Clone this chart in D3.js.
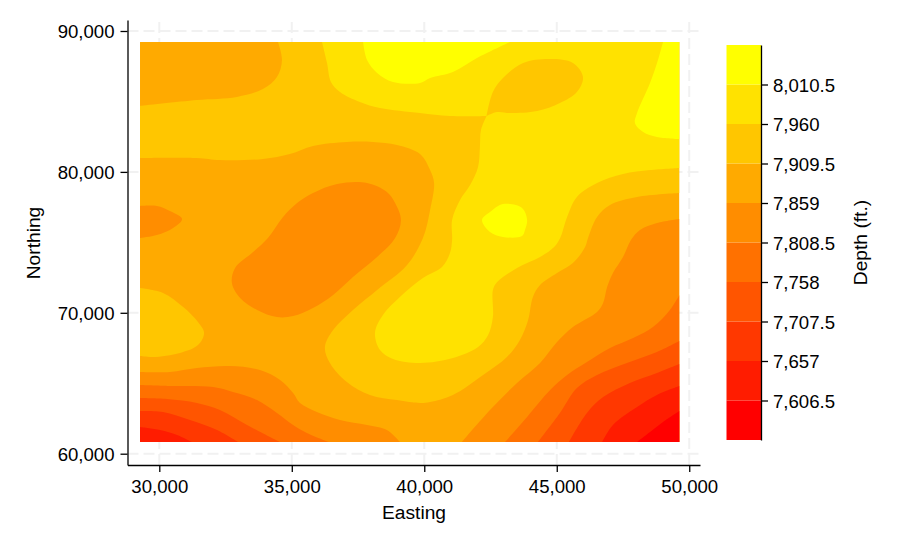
<!DOCTYPE html>
<html>

<head>
    <title>Depth contour</title>
    <meta charset="UTF-8">
    <style type="text/css">
        body {
            margin: 0;
            background: #fff;
        }

        text {
            font-family: "Liberation Sans", Arial, sans-serif;
            font-size: 18.6px;
            fill: #000;
        }

        .title {
            font-size: 19.2px;
        }

        .grid line {
            stroke: #f1f1f1;
            stroke-width: 2px;
            stroke-dasharray: 11 5;
        }
    </style>
    <script src="https://d3js.org/d3.v7.min.js"></script>
</head>

<body>
    <script type="text/javascript">
        //tick labels
        var eastingTicks = [30000, 35000, 40000, 45000, 50000];
        var northingTicks = [60000, 70000, 80000, 90000];
        var depthTicks = [7606.5, 7657, 7707.5, 7758, 7808.5, 7859, 7909.5, 7960, 8010.5];
        var depthRange = [7556, 8061];
        var bandColors = ["#ff0000", "#ff1c00", "#ff3800", "#ff5500", "#ff7100", "#ff8d00", "#ffaa00", "#ffc600", "#ffe200", "#ffff00"];

        //extent of the contoured grid
        var eastMin = 29272, eastMax = 49630;
        var northMin = 60830, northMax = 89218;

        //contour lines, as [easting, northing]
        var line7909South = [[29272, 80990], [31420, 80990], [32290, 80840], [33910, 80920], [34930, 81270], [35800, 81840], [37080, 82120], [38070, 82120], [38970, 81910], [39840, 81270], [40220, 80130], [40370, 79210], [40220, 77300], [39950, 75310], [39350, 73390], [38220, 71620], [37310, 70200], [36560, 68780], [36250, 67570], [36440, 66440], [37080, 65090], [37950, 64170], [38970, 63810], [39840, 63600], [40220, 63670], [41080, 64170], [42220, 65590], [43120, 66860], [43610, 68070], [43920, 69490], [44100, 71120], [44370, 71970], [45010, 72820], [45610, 73530], [46070, 74670], [46180, 75310], [46520, 76800], [47010, 77650], [48030, 78220], [49630, 78500]];
        var line7909NorthWest = [[34480, 89218], [34630, 87940], [34440, 86730], [33910, 85880], [32930, 85320], [31420, 85100], [29272, 84680]];
        var line7909West = [[29272, 71760], [30140, 71410], [30900, 70410], [31460, 69350], [31690, 68570], [31460, 67710], [30780, 67150], [29760, 66860], [29272, 66930]];

        var line7960North = [[36140, 89218], [36330, 87730], [36480, 86380], [36820, 85670], [37570, 84960], [38330, 84530], [39840, 84180], [40970, 83970], [42350, 83970]];
        var line7960Lens = [[42350, 83970], [42590, 85670], [42970, 86660], [43730, 87730], [44750, 88010], [45610, 87730], [45990, 86730], [45760, 85670], [45120, 84890], [44260, 84320], [43240, 84180], [42750, 84250], [42350, 83970]];
        var line7960South = [[42350, 83970], [42140, 82970], [42100, 81770], [42030, 80350], [41730, 79070], [41350, 78010], [41050, 76590], [41050, 75170], [40970, 74240], [40670, 73250], [39950, 72470], [39080, 71120], [38440, 69840], [38140, 68570], [38330, 67360], [38820, 66720], [39840, 66440], [41080, 66790], [42030, 67570], [42410, 68420], [42590, 69700], [42590, 71620], [42750, 72190], [43500, 73180], [44370, 73960], [44900, 74670], [45130, 75310], [45390, 76800], [45760, 78220], [46520, 79210], [47500, 79850], [48520, 80130], [49630, 80280]];

        var line8010North = [[37690, 89218], [37840, 87940], [38220, 87020], [38820, 86380], [39840, 86310], [40220, 86660], [41080, 87090], [41990, 88080], [43240, 89218]];
        var line8010East = [[49010, 89218], [48820, 87940], [48520, 86310], [48030, 84180], [47950, 83470], [48260, 82830], [48780, 82480], [49630, 82330]];
        var line8010Island = [[42180, 76590], [42480, 77150], [42970, 77720], [43690, 77440], [43880, 76590], [43800, 75880], [43690, 75450], [42970, 75380], [42480, 75730]];

        var line7859West = [[29272, 77580], [29910, 77580], [30400, 77220], [30860, 76660], [30520, 76020], [29910, 75520], [29272, 75310]];
        var line7859Blob = [[34100, 75310], [34670, 76800], [35200, 77790], [35800, 78500], [36710, 79140], [37840, 79210], [38590, 78570], [38900, 77790], [39120, 76590], [38900, 75310], [38220, 73960], [37310, 72540], [36560, 71260], [35800, 70340], [35050, 69770], [34440, 69700], [33690, 70200], [33050, 71050], [32740, 72110], [32860, 73180], [33540, 74310]];
        var line7859East = [[49630, 76660], [48780, 76370], [48140, 75880], [47800, 75170], [47500, 73960], [47120, 72820], [46900, 71830], [46750, 70700], [46520, 70060], [45610, 68990], [45010, 67930], [44370, 66440], [43500, 65020], [42480, 63100], [41420, 60830]];
        var line7859South = [[29272, 65800], [30400, 65800], [31420, 66080], [32670, 66220], [33800, 65940], [34560, 65230], [35050, 64310], [35310, 63600], [35950, 62960], [36820, 62390], [37840, 62040], [38590, 61680], [39080, 60830]];

        var line7808South = [[29272, 64880], [30400, 64810], [32030, 64730], [32780, 64380], [33690, 63810], [34440, 62890], [35050, 62040], [35570, 61470], [36400, 60830]];
        var line7808East = [[49630, 71260], [49270, 70200], [48630, 68990], [47880, 68210], [47010, 67500], [46140, 66510], [45390, 65590], [44750, 64520], [43880, 62610], [43050, 60830]];
        var line7758South = [[29272, 63950], [30290, 63880], [31420, 63600], [32290, 63100], [33310, 62040], [34560, 60830]];
        var line7758East = [[49630, 68000], [48780, 67220], [47650, 66440], [46520, 65590], [45760, 64660], [45120, 62890], [44290, 60830]];
        var line7707South = [[29272, 63030], [30140, 62960], [31160, 62390], [32180, 61680], [32970, 60830]];
        var line7707East = [[49630, 66370], [48780, 65730], [47760, 65020], [46750, 64020], [46140, 62890], [45460, 60830]];
        var line7657South = [[29272, 61900], [30030, 61680], [30670, 61330], [31230, 60830]];
        var line7657East = [[49630, 64800], [48780, 64170], [48030, 63320], [47120, 62040], [46710, 60830]];
        var line7606East = [[49630, 63030], [49010, 62250], [48520, 61540], [48030, 60830]];

        //corners used to close the open contour lines along the grid edge
        var cornerNE = [[eastMax, northMax]];
        var cornerSE = [[eastMax, northMin]];
        var cornerSW = [[eastMin, northMin]];

        //painting order: mid band first, then up to yellow and down to red
        var regions = [
            { band: 7, parts: [line7909South, cornerNE, line7909NorthWest] },
            { band: 7, parts: [line7909West] },
            { band: 8, parts: [line7960North, line7960Lens, line7960South, cornerNE] },
            { band: 9, parts: [line8010North] },
            { band: 9, parts: [line8010East, cornerNE] },
            { band: 9, loop: line8010Island },
            { band: 5, parts: [line7859West] },
            { band: 5, loop: line7859Blob },
            { band: 5, parts: [line7859East, cornerSE] },
            { band: 5, parts: [line7859South, cornerSW] },
            { band: 4, parts: [line7808South, cornerSW] },
            { band: 4, parts: [line7808East, cornerSE] },
            { band: 3, parts: [line7758South, cornerSW] },
            { band: 3, parts: [line7758East, cornerSE] },
            { band: 2, parts: [line7707South, cornerSW] },
            { band: 2, parts: [line7707East, cornerSE] },
            { band: 1, parts: [line7657South, cornerSW] },
            { band: 1, parts: [line7657East, cornerSE] },
            { band: 0, parts: [line7606East, cornerSE] }
        ];

        var svg = d3.select("body")
            .append("svg")
            .attr("width", 910)
            .attr("height", 546);

        //scales, the domains run out to the ends of the axis lines
        var x = d3.scaleLinear().domain([28800, 50406]).range([127.5, 700]);
        var y = d3.scaleLinear().domain([59198, 90780]).range([465, 20]);
        var legendY = d3.scaleLinear().domain(depthRange).range([440, 45]);

        //dashed grid under the contours
        var grid = svg.append("g").attr("class", "grid");
        grid.selectAll(".gx")
            .data(eastingTicks)
            .enter().append("line")
            .attr("x1", function(d) { return x(d); })
            .attr("x2", function(d) { return x(d); })
            .attr("y1", 465)
            .attr("y2", 20);
        grid.selectAll(".gy")
            .data(northingTicks)
            .enter().append("line")
            .attr("x1", 127.5)
            .attr("x2", 700)
            .attr("y1", function(d) { return y(d); })
            .attr("y2", function(d) { return y(d); });

        //contour bands
        var smooth = d3.line()
            .x(function(d) { return x(d[0]); })
            .y(function(d) { return y(d[1]); })
            .curve(d3.curveCatmullRom);
        var loop = d3.line()
            .x(function(d) { return x(d[0]); })
            .y(function(d) { return y(d[1]); })
            .curve(d3.curveCatmullRomClosed);

        function regionPath(r) {
            if (r.loop) return loop(r.loop);
            return r.parts.map(function(p, i) {
                if (p.length == 1) return "L" + x(p[0][0]) + "," + y(p[0][1]);
                var s = smooth(p);
                return i ? "L" + s.slice(1) : s;
            }).join("") + "Z";
        }

        svg.append("clipPath")
            .attr("id", "plot-clip")
            .append("rect")
            .attr("x", x(eastMin))
            .attr("y", y(northMax))
            .attr("width", x(eastMax) - x(eastMin))
            .attr("height", y(northMin) - y(northMax));

        var plot = svg.append("g").attr("clip-path", "url(#plot-clip)");
        plot.append("rect")
            .attr("x", x(eastMin))
            .attr("y", y(northMax))
            .attr("width", x(eastMax) - x(eastMin))
            .attr("height", y(northMin) - y(northMax))
            .attr("fill", bandColors[6]);
        plot.selectAll("path")
            .data(regions)
            .enter().append("path")
            .attr("d", regionPath)
            .attr("fill", function(d) { return bandColors[d.band]; });

        //axes
        var xAxis = d3.axisBottom(x)
            .tickValues(eastingTicks)
            .tickFormat(d3.format(","))
            .tickSizeInner(7)
            .tickSizeOuter(0)
            .tickPadding(8);
        var yAxis = d3.axisLeft(y)
            .tickValues(northingTicks)
            .tickFormat(d3.format(","))
            .tickSizeInner(7)
            .tickSizeOuter(0)
            .tickPadding(6);

        function styleAxis(g) {
            g.attr("font-family", null).attr("font-size", null);
            g.select(".domain").attr("stroke", "#000").attr("stroke-width", 1.3);
            g.selectAll(".tick line").attr("stroke", "#000").attr("stroke-width", 1.3);
        }

        //side axes sit a pixel lower than the default label centring
        function nudgeLabels(g) {
            g.selectAll(".tick text").attr("dy", "0.37em");
        }

        svg.append("g")
            .attr("transform", "translate(0,465)")
            .call(xAxis)
            .call(styleAxis);
        svg.append("g")
            .attr("transform", "translate(127.5,0)")
            .call(yAxis)
            .call(styleAxis)
            .call(nudgeLabels);

        svg.append("text")
            .attr("class", "title")
            .attr("x", 414)
            .attr("y", 519)
            .style("text-anchor", "middle")
            .text("Easting");
        svg.append("text")
            .attr("class", "title")
            .attr("transform", "translate(39.5,243) rotate(-90)")
            .style("text-anchor", "middle")
            .text("Northing");

        //legend bar, one rect per band between the depth ticks
        var legendEdges = [depthRange[0]].concat(depthTicks, [depthRange[1]]);
        svg.append("g").selectAll("rect")
            .data(bandColors)
            .enter().append("rect")
            .attr("x", 726.5)
            .attr("width", 34.5)
            .attr("y", function(d, i) { return legendY(legendEdges[i + 1]); })
            .attr("height", function(d, i) { return legendY(legendEdges[i]) - legendY(legendEdges[i + 1]); })
            .attr("fill", function(d) { return d; });

        var legendAxis = d3.axisRight(legendY)
            .tickValues(depthTicks)
            .tickFormat(d3.format(","))
            .tickSizeInner(7)
            .tickSizeOuter(0)
            .tickPadding(5);
        svg.append("g")
            .attr("transform", "translate(761,0)")
            .call(legendAxis)
            .call(styleAxis)
            .call(nudgeLabels);

        svg.append("text")
            .attr("class", "title")
            .attr("transform", "translate(867,242.5) rotate(-90)")
            .style("text-anchor", "middle")
            .text("Depth (ft.)");
    </script>

</body>

</html>
